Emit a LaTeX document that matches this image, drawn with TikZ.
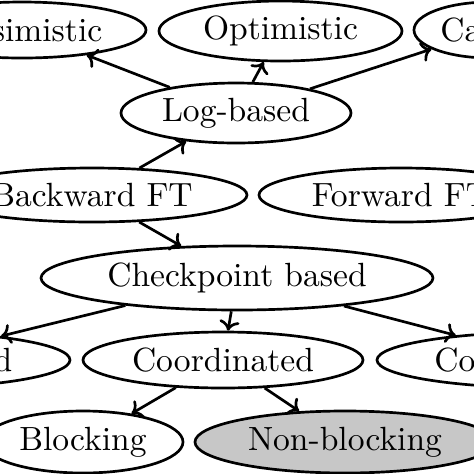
\documentclass[tikz,border=0pt]{standalone}
\usetikzlibrary{shapes.geometric,arrows.meta}
\def\pxu{0.2979}
\tikzset{
  ell/.style args={#1/#2}{ellipse, draw, line width=0.8pt, inner sep=0pt,
    minimum width=2*#1*\pxu pt, minimum height=2*#2*\pxu pt},
  grayfill/.style={fill=black!22},
  conn/.style={line width=0.8pt, -{To[length=3pt,width=6pt]}}
}
\begin{document}
\begin{tikzpicture}[x=\pxu pt, y=-\pxu pt]
\useasboundingbox (0,0) rectangle (474,474);
\clip (0,0) rectangle (474,474);
\node[ell=124/28] (pess) at (22,30) {Pessimistic};
\node[ell=121.5/30] (opt) at (280.5,31) {Optimistic};
\node[ell=76/28] (causal) at (490,30) {Causal};
\node[ell=115/30] (log) at (236,113) {Log-based};
\node[ell=155/27] (back) at (92,195) {Backward FT};
\node[ell=142/27] (fwd) at (401,195) {Forward FT};
\node[ell=196/32] (ckpt) at (237,278) {Checkpoint based};
\node[ell=166/28] (uncoord) at (-96,360) {Uncoordinated};
\node[ell=140/28] (coord) at (223,360) {Coordinated};
\node[ell=173/28] (comm) at (550,360) {Comm.-induced};
\node[ell=100/31] (block) at (83,442) {Blocking};
\node[ell=150/31, grayfill] (nonblock) at (345,442) {Non-blocking};
\draw[conn] (log) -- (pess);
\draw[conn] (log) -- (opt);
\draw[conn] (log) -- (causal);
\draw[conn] (back) -- (log);
\draw[conn] (back) -- (ckpt);
\draw[conn] (ckpt) -- (uncoord);
\draw[conn] (ckpt) -- (coord);
\draw[conn] (ckpt) -- (comm);
\draw[conn] (coord) -- (block);
\draw[conn] (coord) -- (nonblock);
\end{tikzpicture}
\end{document}
